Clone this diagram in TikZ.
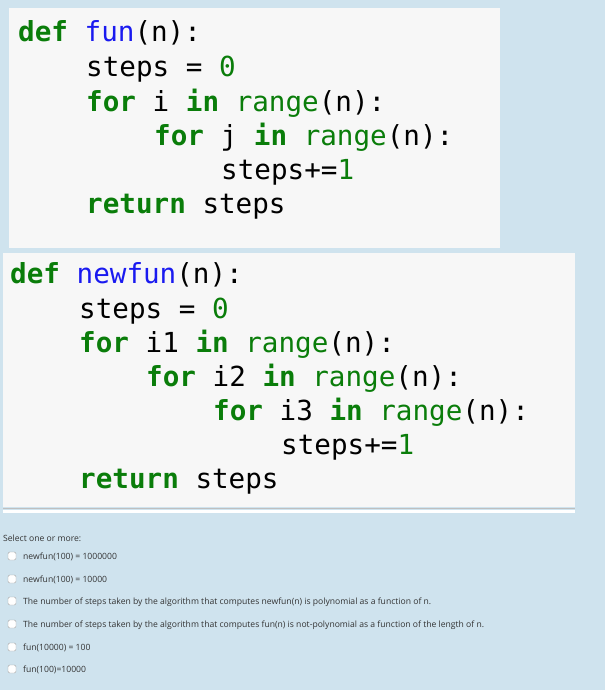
\documentclass[tikz,border=0pt]{standalone}
\usepackage{fontspec}
\setmainfont{Open Sans}
\newfontfamily\codefont{DejaVu Sans Mono}
\definecolor{bgc}{HTML}{CFE3EE}
\definecolor{boxc}{HTML}{F7F7F7}
\definecolor{kw}{HTML}{0A7D0A}
\definecolor{fn}{HTML}{1A1AF0}
\definecolor{txt}{HTML}{333333}
\newcommand{\K}[1]{{\bfseries\color{kw}#1}}
\newcommand{\N}[1]{{\color{kw}#1}}
\newcommand{\F}[1]{{\color{fn}#1}}
\begin{document}
\begin{tikzpicture}[x=1pt,y=-1pt,
  code/.style={anchor=base west,inner sep=0pt,font=\codefont\fontsize{27.6}{30}\selectfont},
  opt/.style={anchor=base west,inner sep=0pt,font=\fontsize{8.6}{10}\selectfont,text=txt},
  cbox/.style={draw=gray!70,fill=white,rounded corners=1.5pt,minimum size=8pt,inner sep=0pt}]
\fill[bgc] (0,0) rectangle (605,690);
\useasboundingbox (0,0) rectangle (605,690);
\fill[boxc] (9,8) rectangle (500,248);
\fill[boxc] (3,253) rectangle (575,507);
\draw[gray!50,line width=1pt] (3,508) -- (575,508);
\fill[white] (3,510) rectangle (575,513);
% box 1
\node[code] (a1) at (18,42) {\K{def} \F{fun}(n):};
\node[code] (a2) at (86,77) {steps = \N{0}};
\node[code] (a3) at (86,111) {\K{for} i \K{in} \N{range}(n):};
\node[code] (a4) at (154,145) {\K{for} j \K{in} \N{range}(n):};
\node[code] (a5) at (221,179) {steps+=\N{1}};
\node[code] (a6) at (86,213) {\K{return} steps};
% box 2
\node[code] (b1) at (10,283) {\K{def} \F{newfun}(n):};
\node[code] (b2) at (79,318) {steps = \N{0}};
\node[code] (b3) at (79,352) {\K{for} i1 \K{in} \N{range}(n):};
\node[code] (b4) at (146,386) {\K{for} i2 \K{in} \N{range}(n):};
\node[code] (b5) at (213,420) {\K{for} i3 \K{in} \N{range}(n):};
\node[code] (b6) at (281,454) {steps+=\N{1}};
\node[code] (b7) at (79,488) {\K{return} steps};
% options
\node[opt] (s) at (3,541) {Select one or more:};
\foreach \y/\t [count=\i] in {556/{newfun(100) = 1000000},579/{newfun(100) = 10000},
  601/{The number of steps taken by the algorithm that computes newfun(n) is polynomial as a function of n.},
  624/{The number of steps taken by the algorithm that computes fun(n) is not-polynomial as a function of the length of n.},
  647/{fun(10000) = 100},669/{fun(100)=10000}}{
  \node[cbox] (c\i) at (12,\y) {};
  \node[opt] (t\i) at (23,\y+3) {\t};
}
\end{tikzpicture}
\end{document}
